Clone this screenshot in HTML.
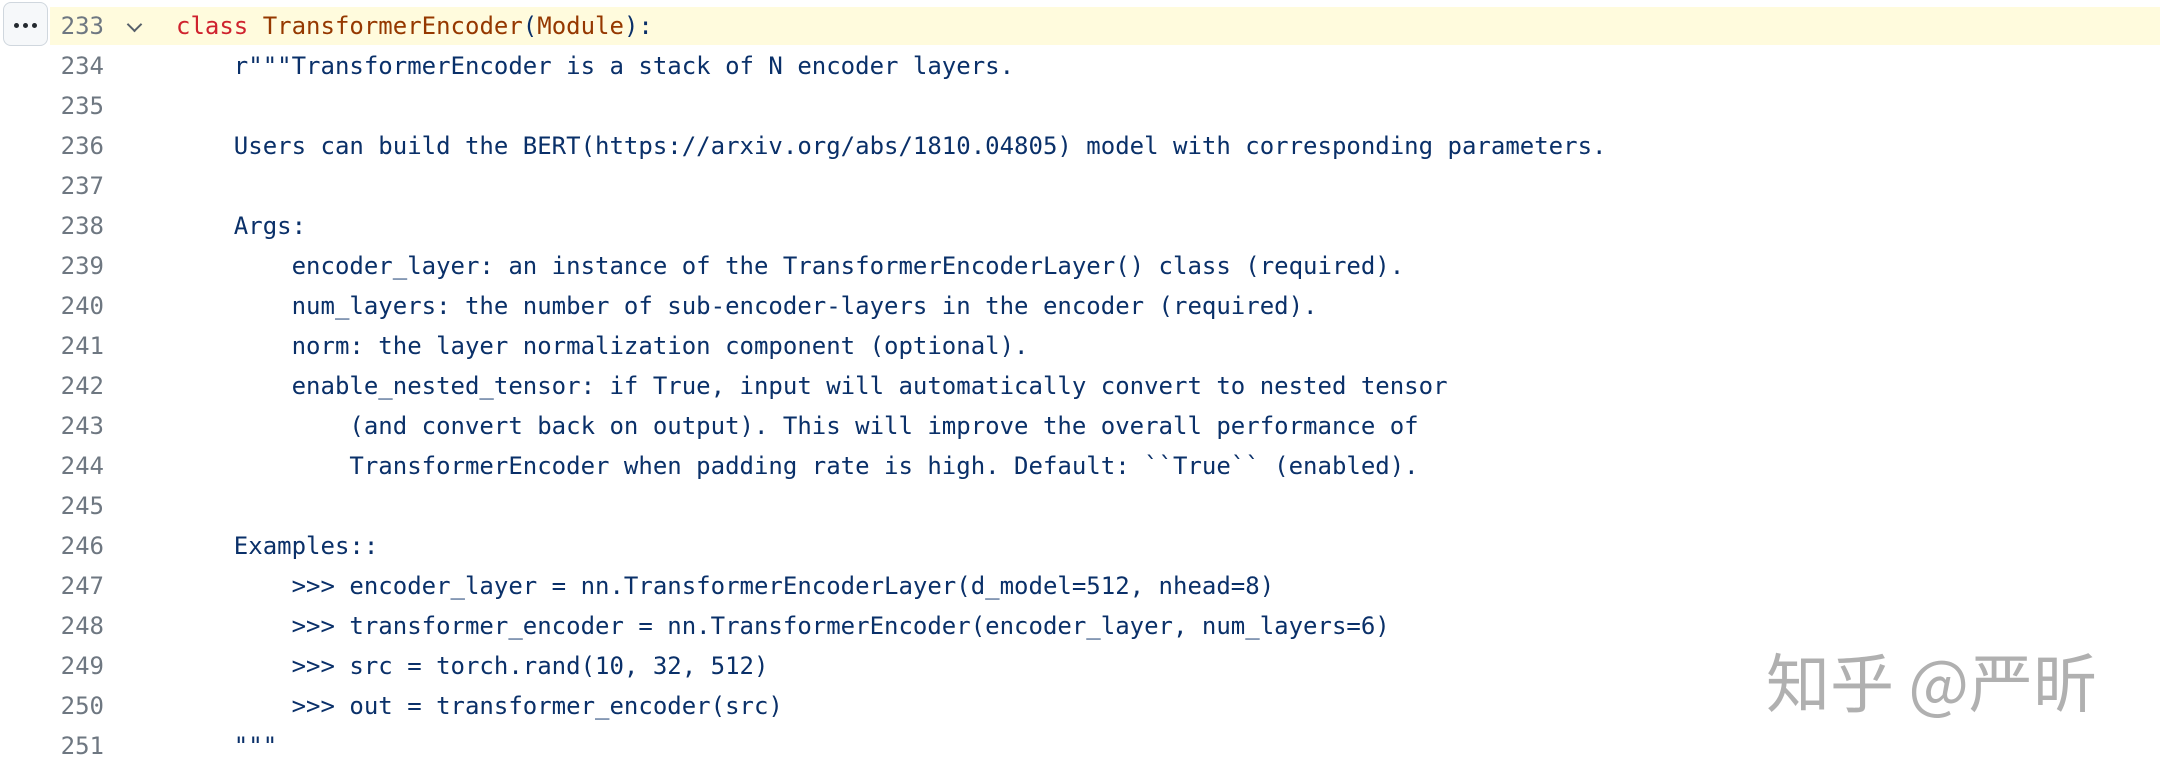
<!DOCTYPE html>
<html><head><meta charset="utf-8"><style>
html,body{margin:0;padding:0;background:#fff;}
body{width:2160px;height:760px;position:relative;overflow:hidden;font-family:"DejaVu Sans Mono","Liberation Mono",monospace;font-size:24px;}
.hl{position:absolute;left:50px;top:7px;width:2110px;height:38px;background:#fffbdd;}
.btn{position:absolute;left:3px;top:2px;width:45px;height:44px;border:1.5px solid #d0d7de;border-radius:8px;background:#f6f8fa;box-sizing:border-box;}
.btn i{position:absolute;top:20px;width:5px;height:5px;border-radius:50%;background:#24292f;}
.row{position:absolute;left:0;height:40px;line-height:40px;white-space:pre;}
.ln{position:absolute;left:50px;width:54px;text-align:right;color:#6e7781;}
.code{position:absolute;left:176px;color:#0a3069;}
.k{color:#cf222e}.t{color:#953800}
.chev{position:absolute;left:129px;top:13px;width:9px;height:9px;border-right:2px solid #57606a;border-bottom:2px solid #57606a;transform:rotate(45deg);}
.wm{position:absolute;left:1766px;top:640px;font-family:"Noto Sans CJK SC",sans-serif;font-size:64px;font-weight:normal;color:#b0b0b0;line-height:80px;white-space:nowrap;}
</style></head><body>
<div class="hl"></div>
<div class="btn"><i style="left:10px"></i><i style="left:19px"></i><i style="left:28px"></i></div>
<div class="row" style="top:6px;width:2160px"><span class="ln">233</span><span class="chev"></span><span class="code"><span class="k">class</span> <span class="t">TransformerEncoder</span>(<span class="t">Module</span>):</span></div>
<div class="row" style="top:46px"><span class="ln">234</span><span class="code">    r"""TransformerEncoder is a stack of N encoder layers.</span></div>
<div class="row" style="top:86px"><span class="ln">235</span><span class="code"></span></div>
<div class="row" style="top:126px"><span class="ln">236</span><span class="code">    Users can build the BERT(https://arxiv.org/abs/1810.04805) model with corresponding parameters.</span></div>
<div class="row" style="top:166px"><span class="ln">237</span><span class="code"></span></div>
<div class="row" style="top:206px"><span class="ln">238</span><span class="code">    Args:</span></div>
<div class="row" style="top:246px"><span class="ln">239</span><span class="code">        encoder_layer: an instance of the TransformerEncoderLayer() class (required).</span></div>
<div class="row" style="top:286px"><span class="ln">240</span><span class="code">        num_layers: the number of sub-encoder-layers in the encoder (required).</span></div>
<div class="row" style="top:326px"><span class="ln">241</span><span class="code">        norm: the layer normalization component (optional).</span></div>
<div class="row" style="top:366px"><span class="ln">242</span><span class="code">        enable_nested_tensor: if True, input will automatically convert to nested tensor</span></div>
<div class="row" style="top:406px"><span class="ln">243</span><span class="code">            (and convert back on output). This will improve the overall performance of</span></div>
<div class="row" style="top:446px"><span class="ln">244</span><span class="code">            TransformerEncoder when padding rate is high. Default: ``True`` (enabled).</span></div>
<div class="row" style="top:486px"><span class="ln">245</span><span class="code"></span></div>
<div class="row" style="top:526px"><span class="ln">246</span><span class="code">    Examples::</span></div>
<div class="row" style="top:566px"><span class="ln">247</span><span class="code">        &gt;&gt;&gt; encoder_layer = nn.TransformerEncoderLayer(d_model=512, nhead=8)</span></div>
<div class="row" style="top:606px"><span class="ln">248</span><span class="code">        &gt;&gt;&gt; transformer_encoder = nn.TransformerEncoder(encoder_layer, num_layers=6)</span></div>
<div class="row" style="top:646px"><span class="ln">249</span><span class="code">        &gt;&gt;&gt; src = torch.rand(10, 32, 512)</span></div>
<div class="row" style="top:686px"><span class="ln">250</span><span class="code">        &gt;&gt;&gt; out = transformer_encoder(src)</span></div>
<div class="row" style="top:726px"><span class="ln">251</span><span class="code">    """</span></div>
<div class="wm">知乎 @严昕</div>
</body></html>
